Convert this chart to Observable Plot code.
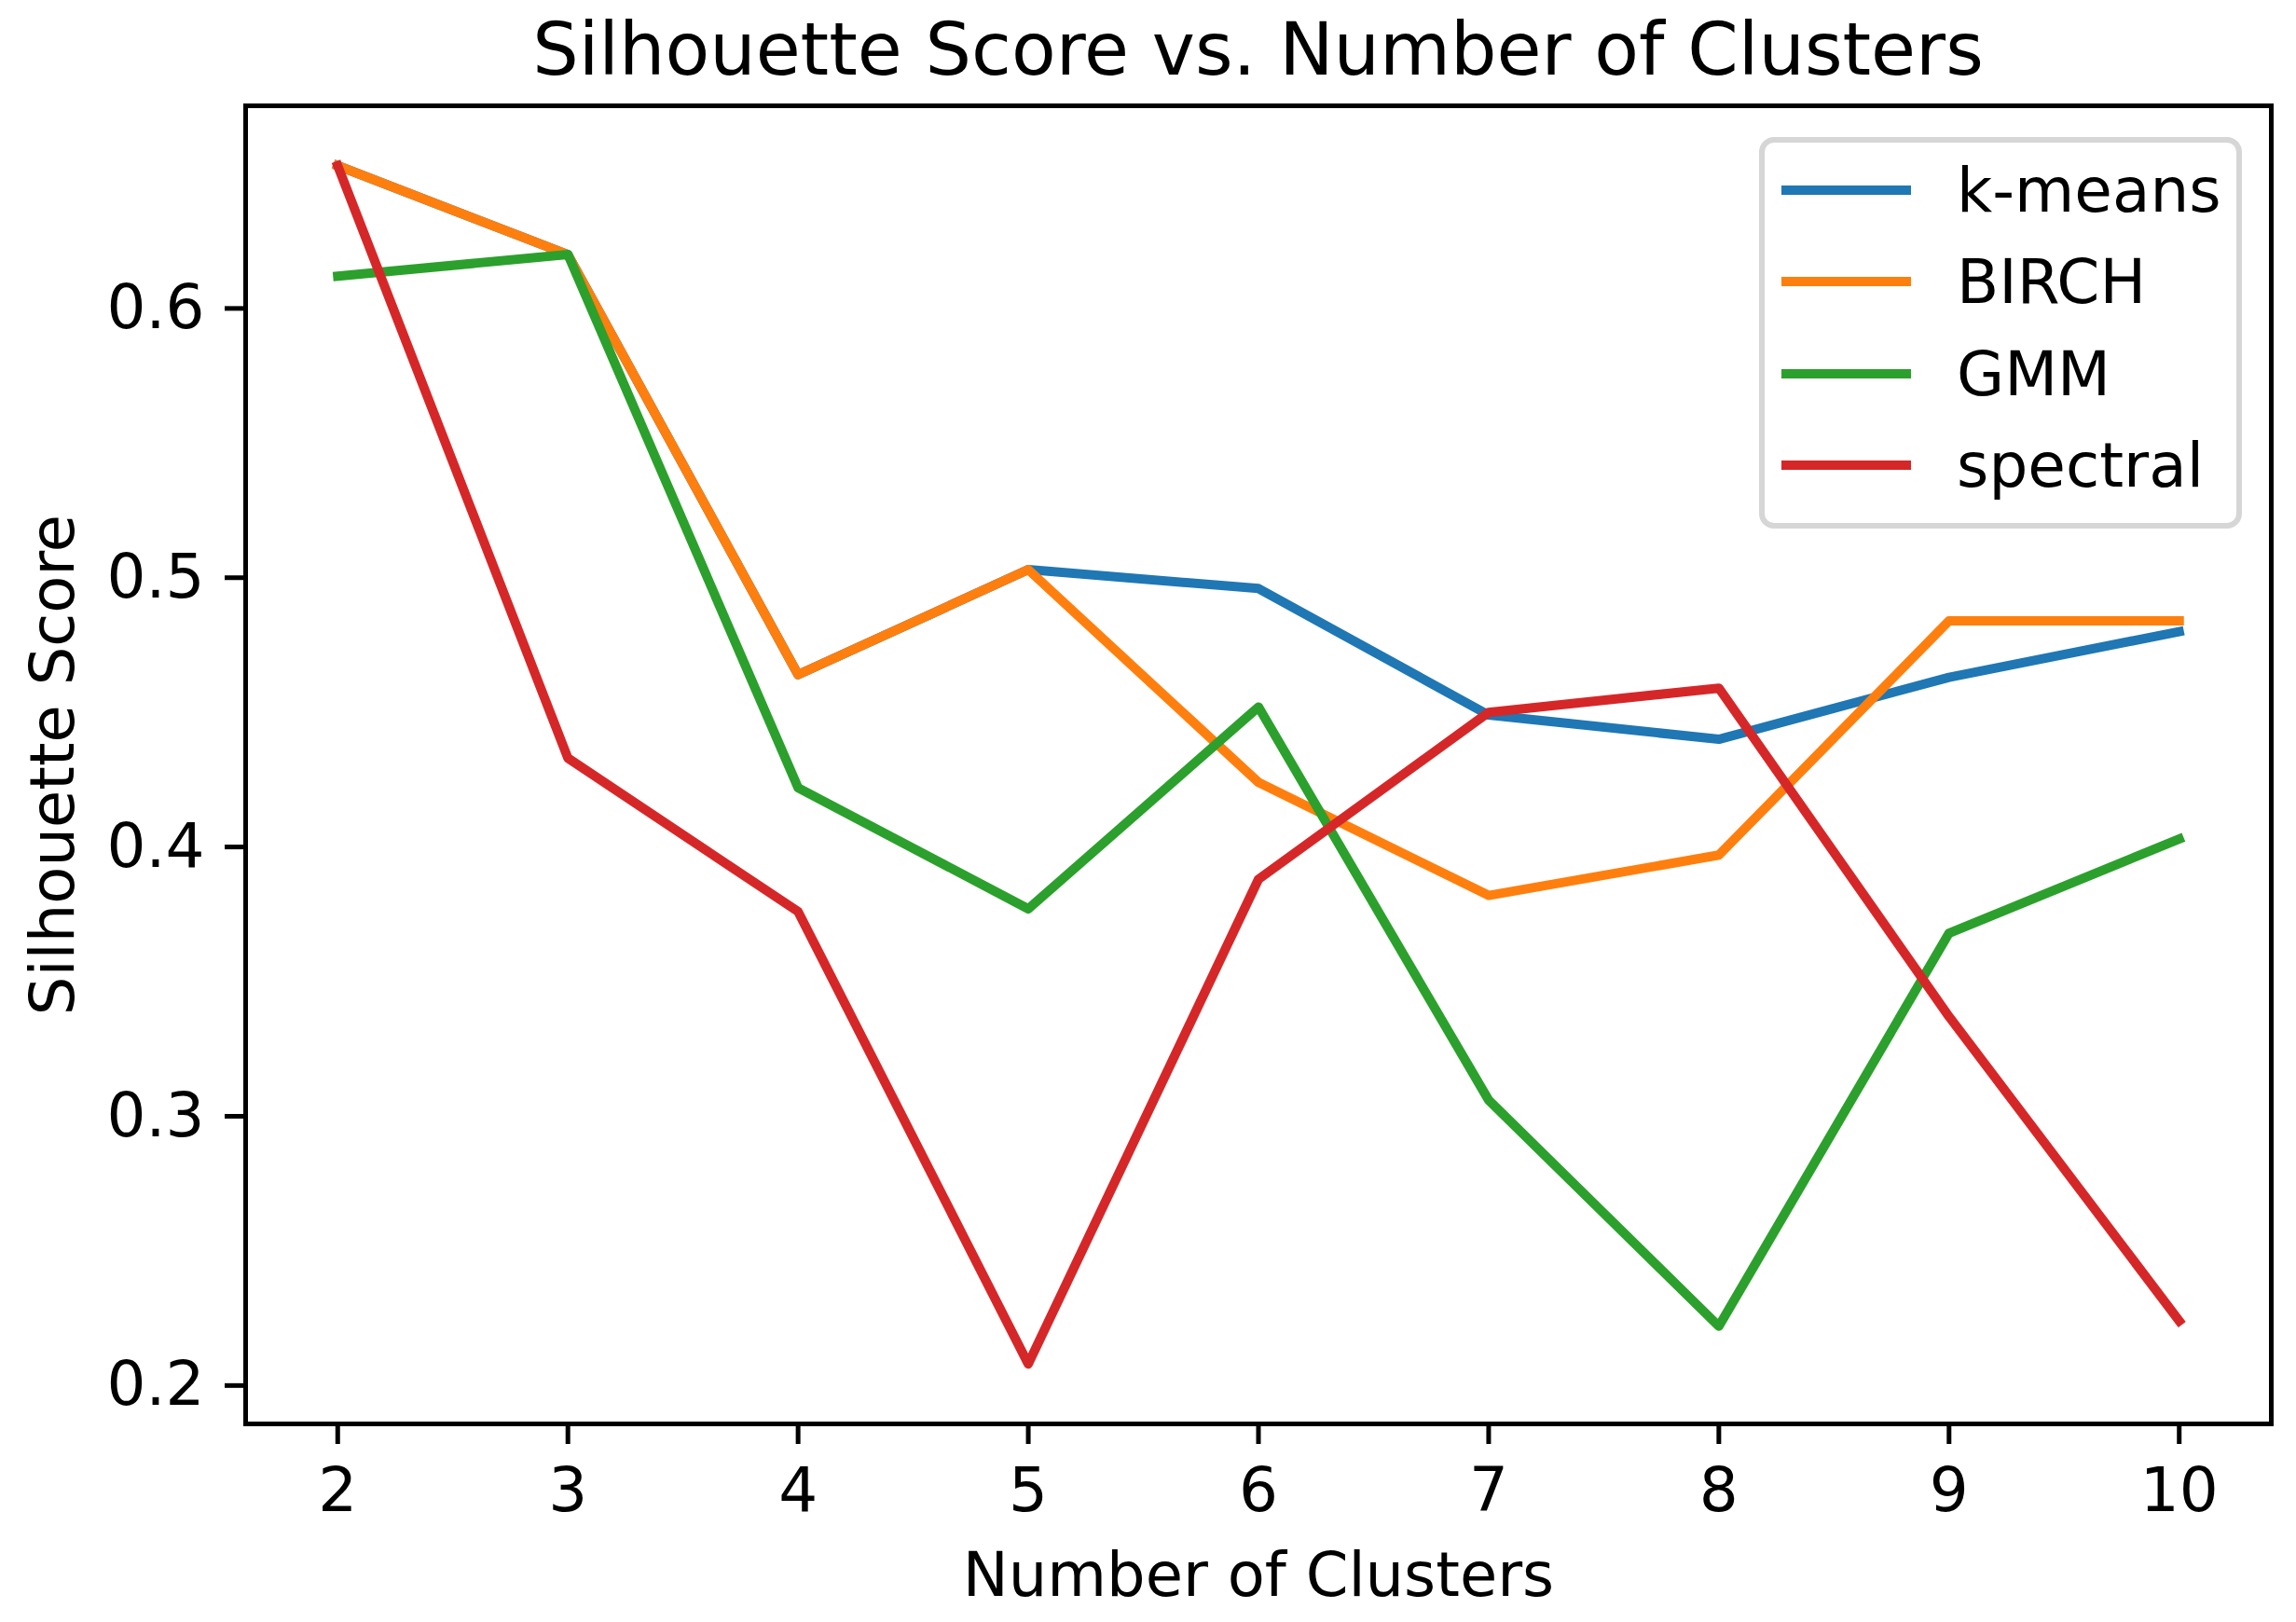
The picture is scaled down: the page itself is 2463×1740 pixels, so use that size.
<!DOCTYPE html>
<html>
<head>
<meta charset="utf-8">
<script src="https://cdn.jsdelivr.net/npm/d3@7"></script>
<script src="https://cdn.jsdelivr.net/npm/@observablehq/plot@0.6"></script>
<style>
  html, body { margin: 0; padding: 0; background: white; }
  body { width: 2463px; height: 1740px; position: relative; overflow: hidden; font-family: "DejaVu Sans", sans-serif; color: black; }
  #title { position: relative; height: 100px; }
  #title span { position: absolute; left: 263px; width: 2173px; top: 14px; text-align: center; font-size: 78px; line-height: 78px; white-space: nowrap; }
  #chart { display: block; }
  #legend { position: absolute; left: 1887px; top: 147px; width: 518px; height: 420px; box-sizing: border-box;
            border: 6.5px solid #d6d6d6; border-radius: 16px; background: rgba(255,255,255,0.8);
            padding-top: 1.6px; padding-left: 18px; }
  .row { display: flex; align-items: center; height: 98.5px; }
  .sw { display: inline-block; width: 139px; height: 10px; }
  .lb { font-size: 66px; line-height: 66px; margin-left: 49px; margin-top: 2px; white-space: nowrap; }
</style>
</head>
<body>
<div id="title"><span>Silhouette Score vs. Number of Clusters</span></div>
<div id="chart"></div>
<div id="legend"></div>
<script>
// ---- data ----
const clusters = [2, 3, 4, 5, 6, 7, 8, 9, 10];
const kmeans   = [0.653, 0.620, 0.464, 0.503, 0.496, 0.449, 0.440, 0.463, 0.480];
const birch    = [0.653, 0.620, 0.464, 0.503, 0.424, 0.382, 0.397, 0.484, 0.484];
const gmm      = [0.612, 0.620, 0.422, 0.377, 0.452, 0.306, 0.222, 0.368, 0.403];
const spectral = [0.653, 0.433, 0.376, 0.208, 0.388, 0.450, 0.459, 0.337, 0.224];
const seriesNames = ["k-means", "BIRCH", "GMM", "spectral"];
const seriesColors = ["#1f77b4", "#ff7f0e", "#2ca02c", "#d62728"];
const xTicks = [2, 3, 4, 5, 6, 7, 8, 9, 10];
const yTicks = [0.2, 0.3, 0.4, 0.5, 0.6];
const titleText = "Silhouette Score vs. Number of Clusters";
const xLabel = "Number of Clusters";
const yLabel = "Silhouette Score";

const seriesValues = [kmeans, birch, gmm, spectral];
const tables = seriesNames.map((name, i) =>
  clusters.map((k, j) => ({k, score: seriesValues[i][j], series: name})));

// matplotlib-like 5% autoscale margins
const allVals = seriesValues.flat();
const yMin = d3.min(allVals), yMax = d3.max(allVals);
const yPad = (yMax - yMin) * 0.05;
const xMin = d3.min(clusters), xMax = d3.max(clusters);
const xPad = (xMax - xMin) * 0.05;

const FONT = 66;
const LABEL_FONT = 65.5;
const chart = Plot.plot({
  width: 2463,
  height: 1640,
  marginLeft: 263,
  marginRight: 27,
  marginTop: 13,
  marginBottom: 213,
  style: {fontFamily: "DejaVu Sans", fontSize: FONT + "px", color: "black", background: "white"},
  x: {domain: [xMin - xPad, xMax + xPad]},
  y: {domain: [yMin - yPad, yMax + yPad]},
  color: {domain: seriesNames, range: seriesColors},
  marks: [
    ...tables.map(t => Plot.line(t, {
      x: "k", y: "score", stroke: "series",
      strokeWidth: 10, strokeLinejoin: "round", strokeLinecap: "square"
    })),
    Plot.axisX({ticks: xTicks, tickFormat: d => String(d), tickSize: 22, tickPadding: 25,
                strokeWidth: 5, fontSize: FONT, label: null}),
    Plot.axisY({ticks: yTicks, tickFormat: d => d.toFixed(1), tickSize: 22, tickPadding: 22,
                strokeWidth: 5, fontSize: FONT, label: null}),
    Plot.text([xLabel], {text: d => d, frameAnchor: "bottom", textAnchor: "middle", lineAnchor: "bottom", dy: 184, fontSize: LABEL_FONT}),
    Plot.text([yLabel], {text: d => d, frameAnchor: "left", textAnchor: "middle", lineAnchor: "bottom", rotate: -90, dx: -185, fontSize: LABEL_FONT}),
    Plot.frame({stroke: "black", strokeWidth: 5})
  ]
});
document.getElementById("chart").appendChild(chart);

// legend
const legend = document.getElementById("legend");
seriesNames.forEach((name, i) => {
  const row = document.createElement("div");
  row.className = "row";
  const sw = document.createElement("span");
  sw.className = "sw";
  sw.style.background = seriesColors[i];
  const lb = document.createElement("span");
  lb.className = "lb";
  lb.textContent = name;
  row.appendChild(sw);
  row.appendChild(lb);
  legend.appendChild(row);
});
</script>
</body>
</html>
